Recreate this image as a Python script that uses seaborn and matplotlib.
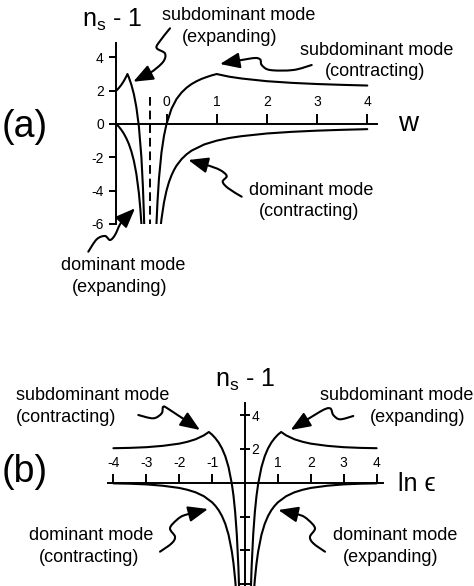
import numpy as np
import matplotlib
matplotlib.use('Agg')
import matplotlib.pyplot as plt
from matplotlib.path import Path
from matplotlib.patches import FancyArrowPatch
import seaborn as sns

sns.set_style('ticks')
plt.rcParams['font.family'] = ['Liberation Sans', 'DejaVu Sans']
plt.rcParams['mathtext.fontset'] = 'custom'
plt.rcParams['mathtext.rm'] = 'Liberation Sans'
plt.rcParams['axes.unicode_minus'] = False
for k in ['text.color', 'axes.edgecolor', 'xtick.color', 'ytick.color', 'axes.labelcolor']:
    plt.rcParams[k] = 'black'

W, H = 474, 586

# ---- panel (a): n_s - 1 against w ----
w_pole = -1 / 3
w_dom_exp = [-1.0, -0.95, -0.9, -0.85, -0.8, -0.75, -0.7, -0.65, -0.6, -0.55, -0.52, -0.5, -0.49]
ns_dom_exp = [0.0, -0.16, -0.35, -0.58, -0.86, -1.2, -1.64, -2.21, -3.0, -4.15, -5.14, -6.0, -6.51]

w_sub_exp = [-1.0, -0.95, -0.9, -0.85, -0.8, -0.778, -0.75, -0.7, -0.65, -0.6, -0.55, -0.5, -0.47, -0.45, -0.44]
ns_sub_exp = [2.0, 2.16, 2.35, 2.58, 2.86, 3.0, 2.8, 2.36, 1.79, 1.0, -0.15, -2.0, -3.76, -5.43, -6.5]

w_dom_con = [-0.12, -0.1, -0.05, 0.0, 0.05, 0.1, 0.15, 0.2, 0.3, 0.4, 0.5, 0.75, 1.0,
             1.25, 1.5, 2.0, 2.5, 3.0, 3.5, 4.0]
ns_dom_con = [-6.25, -5.71, -4.71, -4.0, -3.48, -3.08, -2.76, -2.5, -2.11, -1.82, -1.6, -1.23, -1.0,
              -0.84, -0.73, -0.57, -0.47, -0.4, -0.35, -0.31]

w_sub_con = [-0.21, -0.2, -0.18, -0.15, -0.1, -0.05, 0.0, 0.1, 0.2, 0.3, 0.4, 0.5, 0.6, 0.7, 0.8,
             0.9, 1.0, 1.25, 1.5, 2.0, 2.5, 3.0, 3.5, 4.0]
ns_sub_con = [-6.81, -6.0, -4.7, -3.27, -1.71, -0.71, 0.0, 0.92, 1.5, 1.89, 2.18, 2.4, 2.57, 2.71, 2.82,
              2.92, 3.0, 2.84, 2.73, 2.57, 2.47, 2.4, 2.35, 2.31]

# ---- panel (b): n_s - 1 against ln(epsilon) ----
lne_sub_left = [-4.0, -3.5, -3.0, -2.5, -2.0, -1.75, -1.5, -1.25, -1.099, -1.0, -0.9, -0.8, -0.7,
                -0.6, -0.5, -0.4, -0.35, -0.3, -0.25, -0.2, -0.17, -0.15]
ns_sub_left = [2.04, 2.06, 2.1, 2.18, 2.31, 2.42, 2.57, 2.8, 3.0, 2.84, 2.63, 2.37, 2.03,
               1.57, 0.92, -0.07, -0.77, -1.72, -3.04, -5.03, -6.79, -8.36]
lne_sub_right = [0.15, 0.17, 0.2, 0.25, 0.3, 0.35, 0.4, 0.5, 0.6, 0.7, 0.8, 0.9, 1.0, 1.099,
                 1.25, 1.5, 1.75, 2.0, 2.5, 3.0, 3.5, 4.0]
ns_sub_right = [-8.36, -6.79, -5.03, -3.04, -1.72, -0.77, -0.07, 0.92, 1.57, 2.03, 2.37, 2.63, 2.84, 3.0,
                2.8, 2.57, 2.42, 2.31, 2.18, 2.1, 2.06, 2.04]

lne_dom_left = [-4.0, -3.5, -3.0, -2.5, -2.0, -1.75, -1.5, -1.25, -1.0, -0.9, -0.8, -0.7, -0.6,
                -0.5, -0.4, -0.35, -0.3, -0.28, -0.26]
ns_dom_left = [-0.04, -0.06, -0.1, -0.18, -0.31, -0.42, -0.57, -0.8, -1.16, -1.37, -1.63, -1.97, -2.43,
               -3.08, -4.07, -4.77, -5.72, -6.19, -6.74]
lne_dom_right = [0.26, 0.28, 0.3, 0.35, 0.4, 0.5, 0.6, 0.7, 0.8, 0.9, 1.0, 1.25, 1.5, 1.75, 2.0,
                 2.5, 3.0, 3.5, 4.0]
ns_dom_right = [-6.74, -6.19, -5.72, -4.77, -4.07, -3.08, -2.43, -1.97, -1.63, -1.37, -1.16, -0.8, -0.57,
                -0.42, -0.31, -0.18, -0.1, -0.06, -0.04]

ticks_a_x = [0, 1, 2, 3, 4]
ticks_a_y = [-6, -4, -2, 0, 2, 4]
ticks_b_x = [-4, -3, -2, -1, 1, 2, 3, 4]
ticks_b_y = [-6, -4, -2, 2, 4]
labels_b_y = ['', '', '', '2', '4']


def px_axes(fig, left, top, right, bottom):
    return fig.add_axes([left / W, 1 - bottom / H, (right - left) / W, (bottom - top) / H])


def txt(fig, x, y, s, size=13, ha='center'):
    fig.text(x / W, 1 - y / H, s, ha=ha, va='baseline', fontsize=size)


def squiggle(fig, pts):
    # smooth curve through hand placed points, arrow head at the last one
    p = np.array([(x / W, 1 - y / H) for x, y in pts])
    verts, codes = [p[0]], [Path.MOVETO]
    for i in range(len(p) - 1):
        p0 = p[i - 1] if i > 0 else p[i]
        p3 = p[i + 2] if i + 2 < len(p) else p[i + 1]
        verts += [p[i] + (p[i + 1] - p0) / 6, p[i + 1] - (p3 - p[i]) / 6, p[i + 1]]
        codes += [Path.CURVE4] * 3
    arr = FancyArrowPatch(path=Path(verts, codes), arrowstyle='-|>,head_length=1.0,head_width=0.4',
                          mutation_scale=12, lw=1.5, color='black', transform=fig.transFigure)
    fig.add_artist(arr)


fig = plt.figure(figsize=(W / 100, H / 100), dpi=100)
lw = 1.5

# panel (a)
ax = px_axes(fig, 116.3, 42.4, 379.85, 223.9)
ax.set_facecolor('none')
for xs, ys in [(w_dom_exp, ns_dom_exp), (w_sub_exp, ns_sub_exp),
               (w_dom_con, ns_dom_con), (w_sub_con, ns_sub_con)]:
    sns.lineplot(x=xs, y=ys, ax=ax, color='black', lw=lw, sort=False, estimator=None)
ax.plot([w_pole, w_pole], [1.62, -6], color='black', lw=1.4, ls=(0, (4.5, 2.5)))
ax.set_xlim(-1, 4.25)
ax.set_ylim(-6, 4.9)
ax.spines['right'].set_visible(False)
ax.spines['bottom'].set_visible(False)
ax.spines['top'].set_position(('data', 0))
ax.spines['top'].set_bounds(-1, 4.19)
ax.spines['left'].set_bounds(-6, 4.88)
for s in ax.spines.values():
    s.set_linewidth(1.4)
ax.xaxis.set_ticks_position('top')
ax.set_xticks(ticks_a_x)
ax.set_xticklabels([str(t) for t in ticks_a_x])
ax.set_yticks(ticks_a_y)
ax.set_yticklabels([str(t) for t in ticks_a_y])
ax.tick_params(axis='x', direction='out', length=7.5, width=1.4, pad=3, labelsize=10)
ax.tick_params(axis='y', direction='out', length=5, width=1.4, pad=4, labelsize=10)

# panel (b)
bx = px_axes(fig, 105.18, 402.4, 384.83, 587.5)
bx.set_facecolor('none')
for xs, ys in [(lne_sub_left, ns_sub_left), (lne_sub_right, ns_sub_right),
               (lne_dom_left, ns_dom_left), (lne_dom_right, ns_dom_right)]:
    sns.lineplot(x=xs, y=ys, ax=bx, color='black', lw=lw, sort=False, estimator=None)
bx.set_xlim(-4.25, 4.25)
bx.set_ylim(-6.2, 4.75)
bx.spines['left'].set_visible(False)
bx.spines['bottom'].set_visible(False)
bx.spines['top'].set_position(('data', 0))
bx.spines['top'].set_bounds(-4.15, 4.2)
bx.spines['right'].set_position(('data', 0))
bx.spines['right'].set_bounds(-6.2, 4.7)
for s in bx.spines.values():
    s.set_linewidth(1.4)
bx.xaxis.set_ticks_position('top')
bx.yaxis.set_ticks_position('right')
bx.set_xticks(ticks_b_x)
bx.set_xticklabels([str(t) for t in ticks_b_x])
bx.set_yticks(ticks_b_y)
bx.set_yticklabels(labels_b_y)
bx.tick_params(axis='x', direction='out', length=6.5, width=1.4, pad=2.5, labelsize=10)
bx.tick_params(axis='y', direction='inout', length=7, width=1.4, pad=1, labelsize=10)

# axis titles and panel tags
ns_label = 'n$_\\mathregular{s}$ - 1'
txt(fig, 81.7, 26.7, ns_label, size=18, ha='left')
txt(fig, 408.3, 130.7, 'w', size=20)
txt(fig, 25, 137, '(a)', size=27)
txt(fig, 215, 386.7, ns_label, size=18, ha='left')
txt(fig, 398.3, 490.7, 'ln ϵ', size=18, ha='left')
txt(fig, 25, 482, '(b)', size=27)

# annotations, panel (a)
txt(fig, 239, 20.5, 'subdominant mode')
txt(fig, 230, 42.5, '(expanding)')
txt(fig, 376.7, 54.8, 'subdominant mode')
txt(fig, 375, 76.5, '(contracting)')
txt(fig, 310.8, 194.8, 'dominant mode')
txt(fig, 309.3, 216.5, '(contracting)')
txt(fig, 123.3, 269.8, 'dominant mode')
txt(fig, 119.2, 291.5, '(expanding)')
squiggle(fig, [(170, 28.3), (158.3, 43.3), (157, 48.5), (165, 53.5), (163, 62), (150, 73), (133.3, 81.7)])
squiggle(fig, [(311.7, 65), (293.3, 70), (270, 70), (261.7, 65), (260, 59.3), (251.7, 58.3), (220, 64)])
squiggle(fig, [(241.7, 196.7), (228.3, 188.3), (222.7, 181.7), (226.7, 176), (220, 170), (206.7, 165),
               (188.3, 160)])
squiggle(fig, [(88.3, 251.7), (96.7, 239.3), (105, 236), (110, 240), (115, 235), (121.7, 221.7),
               (135, 208.3)])

# annotations, panel (b)
txt(fig, 16, 399.8, 'subdominant mode', ha='left')
txt(fig, 16, 421.5, '(contracting)', ha='left')
txt(fig, 320, 399.8, 'subdominant mode', ha='left')
txt(fig, 417.5, 421.5, '(expanding)')
txt(fig, 91, 539.8, 'dominant mode')
txt(fig, 88.8, 561.5, '(contracting)')
txt(fig, 395.3, 539.8, 'dominant mode')
txt(fig, 390.3, 561.5, '(expanding)')
squiggle(fig, [(138.3, 415), (153.3, 418.3), (161.7, 413.3), (163.3, 406.7), (170, 410), (200, 430)])
squiggle(fig, [(353.3, 416), (340, 419.3), (333.3, 415), (330, 408.3), (320, 411.7), (290.7, 430)])
squiggle(fig, [(160, 551.7), (171.7, 543.3), (175, 536.7), (170, 528.3), (176.7, 520), (185, 515),
               (208, 509)])
squiggle(fig, [(325, 551.7), (313.3, 543.3), (310, 536.7), (315, 528.3), (308.3, 520), (300, 515),
               (278.3, 510)])

fig.savefig('out.png', dpi=100)
